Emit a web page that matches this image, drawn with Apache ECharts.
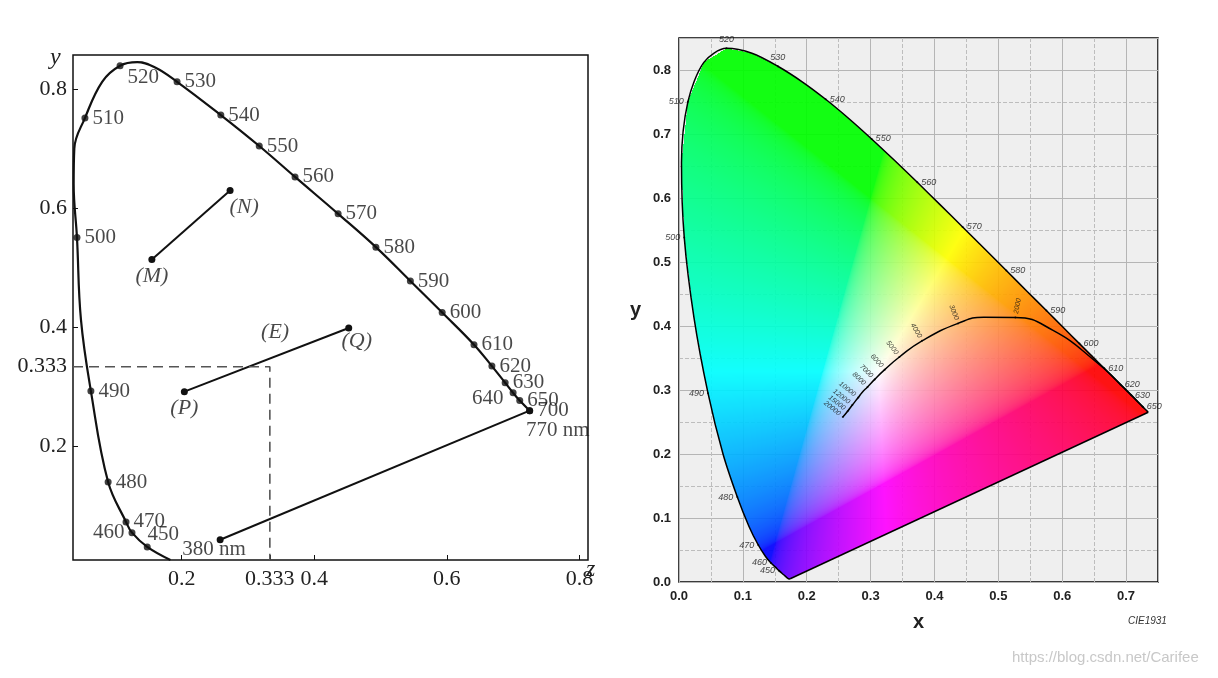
<!DOCTYPE html>
<html>
<head>
<meta charset="utf-8">
<script src="https://cdn.jsdelivr.net/npm/echarts@6/dist/echarts.min.js"></script>
<style>html,body{margin:0;padding:0;background:#fff}#main{width:1218px;height:678px}</style>
</head>
<body>
<div id="main"></div>
<script>
// ---- left diagram ----
var leftWave = [450, 460, 470, 480, 490, 500, 510, 520, 530, 540, 550, 560, 570, 580, 590, 600, 610, 620, 630, 640, 650, 700];
var leftWaveX = [0.148, 0.125, 0.116, 0.089, 0.063, 0.042, 0.054, 0.107, 0.193, 0.259, 0.317, 0.371, 0.436, 0.493, 0.545, 0.593, 0.641, 0.668, 0.688, 0.700, 0.710, 0.725];
var leftWaveY = [0.030, 0.054, 0.072, 0.139, 0.292, 0.550, 0.751, 0.839, 0.812, 0.756, 0.704, 0.652, 0.590, 0.534, 0.477, 0.424, 0.370, 0.334, 0.306, 0.289, 0.276, 0.259];
var leftCurveX = [0.183, 0.148, 0.125, 0.116, 0.089, 0.063, 0.048, 0.042, 0.037, 0.038, 0.054, 0.080, 0.107, 0.133, 0.160, 0.193, 0.259, 0.317, 0.371, 0.436, 0.493, 0.545, 0.593, 0.641, 0.668, 0.688, 0.700, 0.710, 0.725];
var leftCurveY = [0.008, 0.030, 0.054, 0.072, 0.139, 0.292, 0.412, 0.550, 0.640, 0.700, 0.751, 0.812, 0.839, 0.845, 0.836, 0.812, 0.756, 0.704, 0.652, 0.590, 0.534, 0.477, 0.424, 0.370, 0.334, 0.306, 0.289, 0.276, 0.259];
var purpleEnd = [0.258, 0.042];
var pointNames = ['(M)', '(N)', '(P)', '(Q)'];
var pointX = [0.155, 0.273, 0.204, 0.452];
var pointY = [0.513, 0.629, 0.291, 0.398];
var whiteE = [0.333, 0.333];
var leftTicks = [0.2, 0.333, 0.4, 0.6, 0.8];

// ---- right diagram: CIE 1931 spectral locus ----
var locusNm = [380, 410, 430, 440, 450, 455, 460, 465, 470, 475, 480, 485, 490, 495, 500, 505, 510, 515, 520, 525, 530, 535, 540, 545, 550, 555, 560, 565, 570, 575, 580, 585, 590, 595, 600, 605, 610, 615, 620, 625, 630, 635, 640, 645, 650, 660, 680, 700];
var locusX = [0.1741, 0.1726, 0.1689, 0.1644, 0.1566, 0.1510, 0.1440, 0.1355, 0.1241, 0.1096, 0.0913, 0.0687, 0.0454, 0.0235, 0.0082, 0.0039, 0.0139, 0.0389, 0.0743, 0.1142, 0.1547, 0.1929, 0.2296, 0.2658, 0.3016, 0.3373, 0.3731, 0.4087, 0.4441, 0.4788, 0.5125, 0.5448, 0.5752, 0.6029, 0.6270, 0.6482, 0.6658, 0.6801, 0.6915, 0.7006, 0.7079, 0.7140, 0.7190, 0.7230, 0.7260, 0.7300, 0.7334, 0.7347];
var locusY = [0.0050, 0.0048, 0.0069, 0.0109, 0.0177, 0.0232, 0.0297, 0.0399, 0.0578, 0.0868, 0.1327, 0.2007, 0.2950, 0.4127, 0.5384, 0.6548, 0.7502, 0.8120, 0.8338, 0.8262, 0.8059, 0.7816, 0.7543, 0.7243, 0.6923, 0.6589, 0.6245, 0.5896, 0.5547, 0.5202, 0.4866, 0.4544, 0.4242, 0.3965, 0.3725, 0.3514, 0.3340, 0.3197, 0.3083, 0.2993, 0.2920, 0.2859, 0.2809, 0.2770, 0.2740, 0.2700, 0.2666, 0.2653];
var rightLabelNm = [450, 460, 470, 480, 490, 500, 510, 520, 530, 540, 550, 560, 570, 580, 590, 600, 610, 620, 630, 650];
// Planckian locus
var planckK = [20000, 15000, 12000, 10000, 9000, 8000, 7000, 6000, 5000, 4000, 3000, 2500, 2000, 1500, 1000, 800, 600];
var planckX = [0.2565, 0.2640, 0.2714, 0.2807, 0.2867, 0.2952, 0.3064, 0.3221, 0.3451, 0.3805, 0.4369, 0.4770, 0.5267, 0.5857, 0.6528, 0.6900, 0.7280];
var planckY = [0.2577, 0.2668, 0.2766, 0.2883, 0.2962, 0.3048, 0.3166, 0.3318, 0.3516, 0.3768, 0.4041, 0.4137, 0.4133, 0.3931, 0.3444, 0.3100, 0.2720];
var planckLabelK = [20000, 15000, 12000, 10000, 8000, 7000, 6000, 5000, 4000, 3000, 2000];

var serif = '"Liberation Serif","DejaVu Serif",serif';
var zip = function (a, b) { return a.map(function (v, i) { return [v, b[i]]; }); };

// label placement for the left figure
var leftLabelStyle = {
  450: {position: 'top', offset: [16, 6]},
  460: {position: 'left'},
  520: {position: 'right', offset: [0, 12]},
  640: {position: 'left', offset: [-2, 6]}
};
var leftPts = leftWave.map(function (w, i) {
  return {value: [leftWaveX[i], leftWaveY[i]], name: String(w), label: leftLabelStyle[w] || {position: 'right'}};
});

var locusPts = zip(locusX, locusY);
var locusClosed = locusPts.concat([[locusX[0], locusY[0]]]);
var rightPts = rightLabelNm.map(function (w) {
  var i = locusNm.indexOf(w);
  var pos = w <= 510 ? 'left' : (w <= 530 ? 'top' : 'right');
  return {value: [locusX[i], locusY[i]], name: String(w), label: {position: pos}};
});
var planckPts = planckLabelK.map(function (k) {
  var i = planckK.indexOf(k);
  return {value: [planckX[i], planckY[i]], name: String(k)};
});

var chart = echarts.init(document.getElementById('main'));
var rightAxisLabel = {formatter: function (v) { return v.toFixed(1); }, fontWeight: 'bold', fontSize: 13, color: '#222',
  fontFamily: 'Arial, "Liberation Sans"', showMaxLabel: false};
var option = {
  animation: false,
  grid: [
    {left: 73, top: 55, width: 515, height: 505, show: true, borderColor: '#111', borderWidth: 1.5, backgroundColor: 'transparent'},
    {left: 679, top: 38, width: 479, height: 544, show: true, borderColor: '#000', borderWidth: 1.5, backgroundColor: '#efefef'}
  ],
  xAxis: [
    {gridIndex: 0, type: 'value', min: 0.036, max: 0.813, axisLine: {show: false},
      axisTick: {inside: true, length: 5, customValues: leftTicks, lineStyle: {color: '#111'}},
      axisLabel: {customValues: leftTicks, formatter: function (v) { return String(v); }, fontFamily: serif, fontSize: 22, color: '#222', margin: 8},
      splitLine: {show: false}},
    {gridIndex: 1, type: 'value', min: 0, max: 0.75, interval: 0.1, name: 'x', nameLocation: 'middle', nameGap: 30,
      nameTextStyle: {fontSize: 20, fontWeight: 'bold', color: '#222'},
      axisLine: {show: false}, axisTick: {show: false}, axisLabel: rightAxisLabel,
      splitLine: {lineStyle: {color: '#b5b5b5'}},
      minorTick: {show: false, splitNumber: 2}, minorSplitLine: {show: true, lineStyle: {color: '#bdbdbd', type: 'dashed'}}}
  ],
  yAxis: [
    {gridIndex: 0, type: 'value', min: 0.008, max: 0.857, axisLine: {show: false},
      axisTick: {inside: true, length: 5, customValues: leftTicks, lineStyle: {color: '#111'}},
      axisLabel: {customValues: leftTicks, formatter: function (v) { return String(v); }, fontFamily: serif, fontSize: 22, color: '#222', margin: 6},
      splitLine: {show: false}},
    {gridIndex: 1, type: 'value', min: 0, max: 0.85, interval: 0.1, name: 'y', nameLocation: 'middle', nameGap: 38, nameRotate: 0,
      nameTextStyle: {fontSize: 20, fontWeight: 'bold', color: '#222'},
      axisLine: {show: false}, axisTick: {show: false}, axisLabel: rightAxisLabel,
      splitLine: {lineStyle: {color: '#b5b5b5'}},
      minorTick: {show: false, splitNumber: 2}, minorSplitLine: {show: true, lineStyle: {color: '#bdbdbd', type: 'dashed'}}}
  ],
  graphic: [
    {type: 'text', left: 50, top: 46, style: {text: 'y', font: 'italic 24px ' + serif, fill: '#222'}},
    {type: 'text', left: 586, top: 558, style: {text: 'z', font: 'italic 24px ' + serif, fill: '#222'}},
    {type: 'text', left: 1128, top: 616, style: {text: 'CIE1931', font: 'italic 10px Arial, "Liberation Sans"', fill: '#333'}},
    {type: 'text', left: 1012, top: 650, style: {text: 'https://blog.csdn.net/Carifee', font: '15px "Liberation Sans", Arial', fill: '#c8c8c8'}}
  ],
  series: [
    // left figure
    {type: 'line', xAxisIndex: 0, yAxisIndex: 0, data: zip(leftCurveX, leftCurveY), smooth: 0.4, showSymbol: false,
      lineStyle: {color: '#111', width: 2.2}, z: 3},
    {type: 'scatter', xAxisIndex: 0, yAxisIndex: 0, data: leftPts, symbolSize: 7, itemStyle: {color: '#111'},
      label: {show: true, formatter: '{b}', fontFamily: serif, fontSize: 21, color: '#1a1a1a', distance: 4}, z: 4},
    {type: 'line', xAxisIndex: 0, yAxisIndex: 0, data: [purpleEnd, [leftWaveX[leftWaveX.length - 1], leftWaveY[leftWaveY.length - 1]]],
      symbol: 'circle', symbolSize: 7, itemStyle: {color: '#111'}, lineStyle: {color: '#111', width: 2}, z: 3},
    {type: 'scatter', xAxisIndex: 0, yAxisIndex: 0, data: [{value: purpleEnd, name: '380 nm'}], symbolSize: 0,
      label: {show: true, formatter: '{b}', position: 'bottom', offset: [-6, -6], fontFamily: serif, fontSize: 21, color: '#1a1a1a'}},
    {type: 'scatter', xAxisIndex: 0, yAxisIndex: 0, data: [{value: [leftWaveX[leftWaveX.length - 1], leftWaveY[leftWaveY.length - 1]], name: '770 nm'}], symbolSize: 0,
      label: {show: true, formatter: '{b}', position: 'bottom', offset: [28, 4], fontFamily: serif, fontSize: 21, color: '#1a1a1a'}},
    {type: 'line', xAxisIndex: 0, yAxisIndex: 0, data: [[pointX[0], pointY[0]], [pointX[1], pointY[1]]],
      symbol: 'circle', symbolSize: 7, itemStyle: {color: '#111'}, lineStyle: {color: '#111', width: 2}},
    {type: 'line', xAxisIndex: 0, yAxisIndex: 0, data: [[pointX[2], pointY[2]], [pointX[3], pointY[3]]],
      symbol: 'circle', symbolSize: 7, itemStyle: {color: '#111'}, lineStyle: {color: '#111', width: 2}},
    {type: 'line', xAxisIndex: 0, yAxisIndex: 0, data: [[0.036, whiteE[1]], whiteE, [whiteE[0], 0.008]], showSymbol: false,
      lineStyle: {color: '#555', width: 1.6, type: [10, 6]}},
    {type: 'scatter', xAxisIndex: 0, yAxisIndex: 0, symbolSize: 0,
      data: pointNames.map(function (n, i) { return {value: [pointX[i], pointY[i]], name: n}; }).concat([{value: [whiteE[0] + 0.008, whiteE[1] + 0.01], name: '(E)'}]),
      label: {show: true, formatter: '{b}', position: 'bottom', distance: 6, fontFamily: serif, fontStyle: 'italic', fontSize: 22, color: '#1a1a1a'},
      labelLayout: function (p) {
        var n = p.text;
        if (n === '(N)') return {dx: 14, dy: 0};
        if (n === '(Q)') return {dx: 8, dy: -4};
        if (n === '(E)') return {dy: -46};
        return {};
      }},
    // right figure
    {type: 'line', xAxisIndex: 1, yAxisIndex: 1, data: locusPts, showSymbol: false, smooth: 0.3,
      lineStyle: {color: '#000', width: 1.5}, z: 5},
    {type: 'line', xAxisIndex: 1, yAxisIndex: 1, data: [locusPts[locusPts.length - 1], locusPts[0]], showSymbol: false,
      lineStyle: {color: '#000', width: 1.5}, z: 5},
    {type: 'scatter', xAxisIndex: 1, yAxisIndex: 1, data: rightPts, symbol: 'circle', symbolSize: 2, itemStyle: {color: '#000'},
      label: {show: true, formatter: '{b}', fontSize: 9, fontStyle: 'italic', color: '#111', distance: 3}, z: 6},
    {type: 'line', xAxisIndex: 1, yAxisIndex: 1, data: zip(planckX, planckY), showSymbol: false, smooth: true,
      lineStyle: {color: '#000', width: 1.5}, z: 5},
    {type: 'scatter', xAxisIndex: 1, yAxisIndex: 1, data: planckPts, symbol: 'circle', symbolSize: 2, itemStyle: {color: '#000'},
      label: {show: true, formatter: '{b}', fontSize: 7, fontStyle: 'italic', color: '#111', position: 'inside'},
      labelLayout: function (p) {
        // turn each temperature label along the normal of the curve, pointing away from it
        var i = planckK.indexOf(planckLabelK[p.dataIndex]);
        var dx = planckX[i + 1] - planckX[i - 1 < 0 ? 0 : i - 1];
        var dy = planckY[i + 1] - planckY[i - 1 < 0 ? 0 : i - 1];
        var nx = -dy, ny = dx, len = Math.sqrt(nx * nx + ny * ny);
        nx /= len; ny /= len;
        var cx = p.rect.x + p.rect.width / 2, cy = p.rect.y + p.rect.height / 2;
        var flip = nx < 0;
        var ang = Math.atan2(ny, nx) * 180 / Math.PI;
        return {x: cx + nx * 4, y: cy - ny * 4, rotate: flip ? ang - 180 : ang,
          align: flip ? 'right' : 'left', verticalAlign: 'middle'};
      }, z: 6}
  ]
};
chart.setOption(option);

// colour fill of the gamut: pixels inside the spectral locus get their chromaticity colour
(function () {
  var o = chart.convertToPixel({gridIndex: 1}, [0, 0]);
  var u = chart.convertToPixel({gridIndex: 1}, [1, 1]);
  var sx = u[0] - o[0], sy = u[1] - o[1];
  var poly = locusClosed.map(function (p) { return [o[0] + p[0] * sx, o[1] + p[1] * sy]; });
  var x0 = 679, y0 = 38, w = 480, h = 545;
  var cv = document.createElement('canvas');
  cv.width = w; cv.height = h;
  var ctx = cv.getContext('2d');
  var img = ctx.createImageData(w, h);
  var gam = function (c) { return c <= 0.0031308 ? 12.92 * c : 1.055 * Math.pow(c, 1 / 2.4) - 0.055; };
  for (var j = 0; j < h; j++) {
    var py = y0 + j + 0.5;
    for (var i = 0; i < w; i++) {
      var px = x0 + i + 0.5, inside = false;
      for (var a = 0, b = poly.length - 1; a < poly.length; b = a++) {
        if ((poly[a][1] > py) !== (poly[b][1] > py) &&
            px < (poly[b][0] - poly[a][0]) * (py - poly[a][1]) / (poly[b][1] - poly[a][1]) + poly[a][0]) inside = !inside;
      }
      if (!inside) continue;
      var cx = (px - o[0]) / sx, cy = (py - o[1]) / sy;
      if (cy < 0.002) cy = 0.002;
      var X = cx / cy, Y = 1, Z = (1 - cx - cy) / cy;
      var r = 3.2406 * X - 1.5372 * Y - 0.4986 * Z;
      var g = -0.9689 * X + 1.8758 * Y + 0.0415 * Z;
      var bl = 0.0557 * X - 0.2040 * Y + 1.0570 * Z;
      r = Math.max(r, 0); g = Math.max(g, 0); bl = Math.max(bl, 0);
      var m = Math.max(r, g, bl) || 1;
      var k = (j * w + i) * 4;
      img.data[k] = 255 * gam(r / m);
      img.data[k + 1] = 255 * gam(g / m);
      img.data[k + 2] = 255 * gam(bl / m);
      img.data[k + 3] = 235;
    }
  }
  ctx.putImageData(img, 0, 0);
  var gr = option.graphic.slice();
  gr.unshift({type: 'image', left: x0, top: y0, z: 1, silent: true, style: {image: cv, width: w, height: h}});
  chart.setOption({graphic: gr}, {replaceMerge: ['graphic']});
})();
</script>
</body>
</html>
